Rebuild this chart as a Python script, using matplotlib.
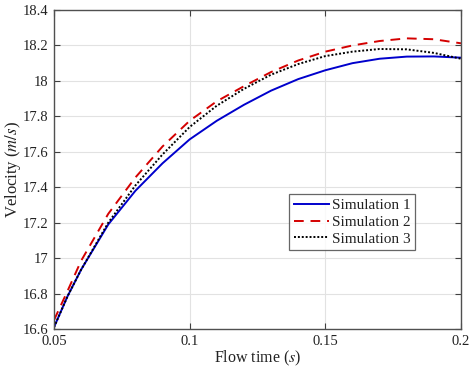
import matplotlib
matplotlib.use("Agg")
import matplotlib.pyplot as plt

plt.rcParams['font.family'] = ['Liberation Serif', 'DejaVu Serif']
plt.rcParams['mathtext.fontset'] = 'stix'

time = [0.05, 0.055, 0.06, 0.07, 0.08, 0.09, 0.10, 0.11, 0.12, 0.13, 0.14, 0.15, 0.16, 0.17, 0.18, 0.19, 0.20]
sim1 = [16.61, 16.785, 16.935, 17.19, 17.38, 17.535, 17.67, 17.775, 17.865, 17.945, 18.01, 18.06, 18.10, 18.125, 18.137, 18.138, 18.131]
sim2 = [16.65, 16.815, 16.985, 17.25, 17.455, 17.63, 17.775, 17.885, 17.97, 18.05, 18.115, 18.165, 18.20, 18.225, 18.24, 18.235, 18.212]
sim3 = [16.61, 16.785, 16.935, 17.20, 17.41, 17.585, 17.74, 17.86, 17.955, 18.035, 18.095, 18.14, 18.165, 18.18, 18.178, 18.158, 18.125]
labels = ['Simulation 1', 'Simulation 2', 'Simulation 3']

xticks = [0.05, 0.1, 0.15, 0.2]
xticklabels = ['0.05', '0.1', '0.15', '0.2']
yticks = [16.6, 16.8, 17.0, 17.2, 17.4, 17.6, 17.8, 18.0, 18.2, 18.4]
yticklabels = ['16.6', '16.8', '17', '17.2', '17.4', '17.6', '17.8', '18', '18.2', '18.4']

fig = plt.figure(figsize=(4.74, 3.71), dpi=100)
ax = fig.add_axes([54/474, 1-329/371, (461-54)/474, (329-10)/371])

ax.plot(time, sim1, color='#0000cc', lw=1.4, ls='-', label=labels[0])
ax.plot(time, sim2, color='#d40000', lw=1.4, ls=(0, (5, 3.5)), label=labels[1])
ax.plot(time, sim3, color='black', lw=1.4, ls=(0, (1, 1)), label=labels[2])

ax.set_xlim(0.05, 0.2)
ax.set_ylim(16.6, 18.4)
ax.set_xticks(xticks)
ax.set_xticklabels(xticklabels)
ax.set_yticks(yticks)
ax.set_yticklabels(yticklabels)
ax.grid(True, color='#e2e2e2', lw=0.8)
ax.set_axisbelow(True)
ax.tick_params(direction='in', top=True, right=True, length=4, width=0.8,
               color='#404040', labelsize=10.5, labelcolor='#222222', pad=4)
for s in ax.spines.values():
    s.set_color('#505050')
    s.set_linewidth(1.0)

ax.set_xlabel('Flow time ($s$)', fontsize=11.5, color='#222222', labelpad=1)
ax.set_ylabel('Velocity ($m/s$)', fontsize=12, color='#222222', labelpad=0)

leg = ax.legend(loc='upper left', bbox_to_anchor=((289-54)/407, (329-194)/319),
                borderaxespad=0, fontsize=11, frameon=True, fancybox=False,
                edgecolor='#404040', handlelength=2.3, handletextpad=0.2,
                labelspacing=0.2, borderpad=0.3)
leg.get_frame().set_linewidth(0.9)
for t in leg.get_texts():
    t.set_color('#222222')

fig.savefig('out.png', dpi=100)
